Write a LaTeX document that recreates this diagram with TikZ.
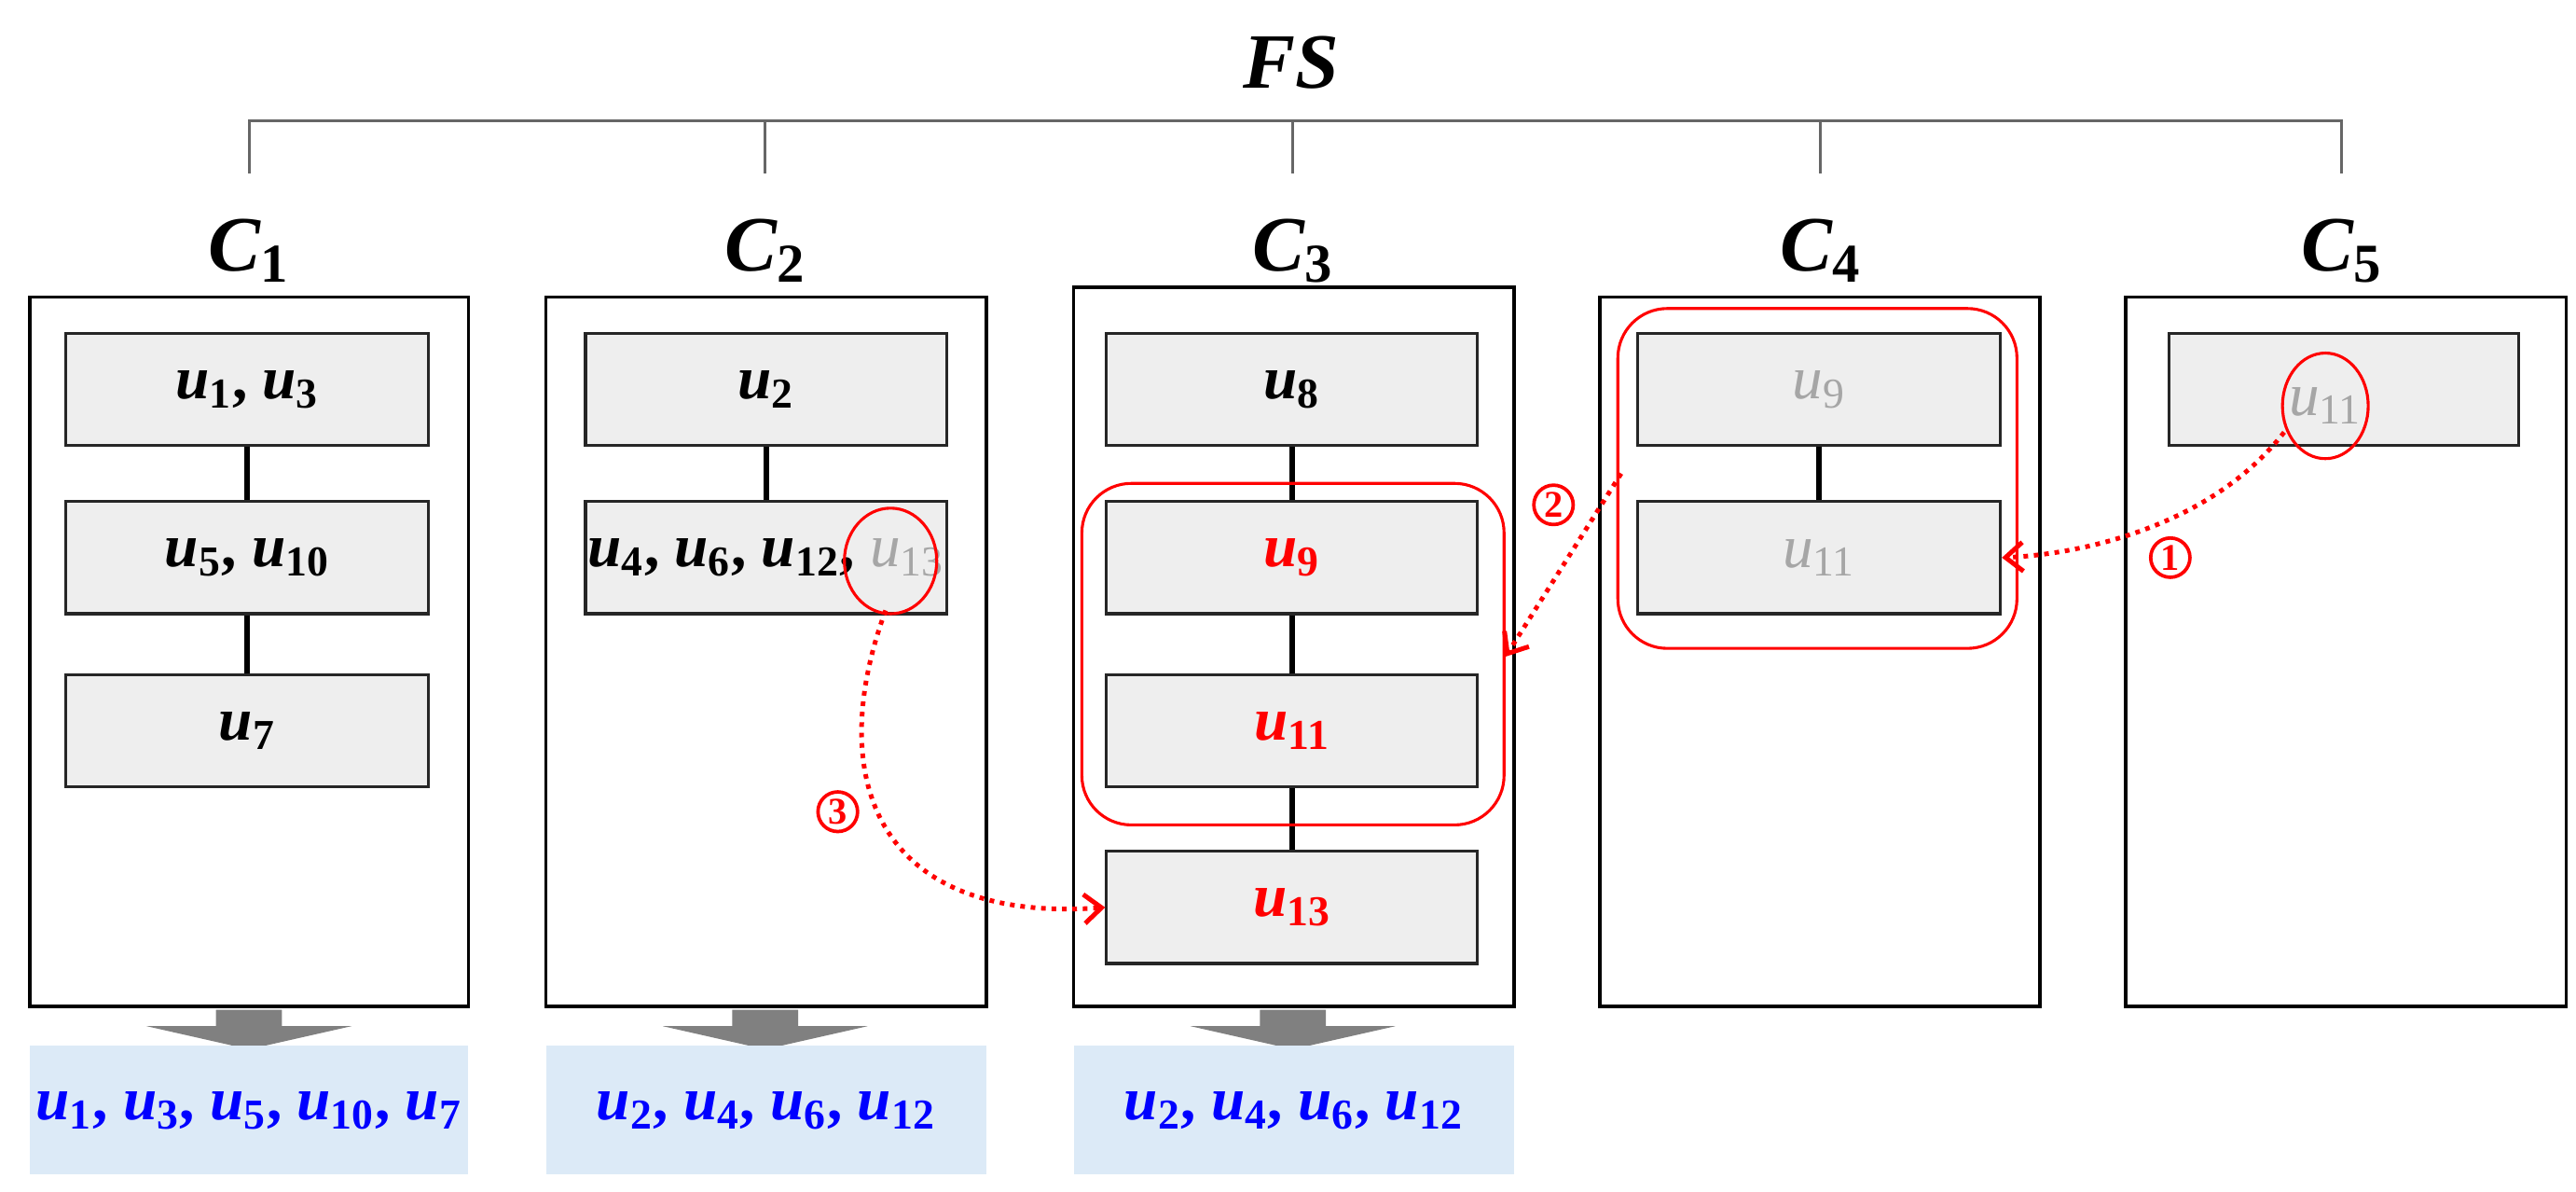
\documentclass[tikz,border=0pt]{standalone}
\usepackage{fontspec}
\setmainfont{Liberation Serif}
\usetikzlibrary{fit,arrows.meta}
\definecolor{boxgray}{RGB}{238,238,238}
\definecolor{resblue}{RGB}{220,234,247}
\definecolor{uired}{RGB}{255,0,0}
\newcommand\uv[1]{\textit{u}\textsubscript{\textup{#1}}}
\tikzset{
  col/.style={draw=black,line width=1.2pt,inner sep=0pt},
  box/.style={draw=black!85,fill=boxgray,line width=1pt,inner sep=0pt},
  txt/.style={font=\fontsize{21}{23}\selectfont\bfseries},
  gtxt/.style={text=black!35,font=\fontsize{21}{23}\selectfont},
  res/.style={fill=resblue,inner sep=0pt},
  lbl/.style={font=\fontsize{27}{29}\selectfont\bfseries\itshape},
  link/.style={line width=2pt},
  grp/.style={draw=uired,line width=1pt,rounded corners=0.6cm,inner sep=0pt},
  move/.style={draw=uired,line width=1.6pt,dotted,-{Straight Barb[length=6pt,width=10pt]}},
  num/.style={circle,draw=uired,line width=1.2pt,text=uired,inner sep=1pt,font=\fontsize{13}{14}\selectfont\bfseries},
}
\newcommand\resultarrow[1]{\fill[black!50] (#1-20,612) -- (#1+20,612) -- (#1+20,622) -- (#1+62,622) -- (#1,636) -- (#1-62,622) -- (#1-20,622) -- cycle;}
\begin{document}
\begin{tikzpicture}[x=0.02cm,y=-0.02cm]
\useasboundingbox (0,0) rectangle (1562,722);
% root and bracket
\node[lbl] (fs) at (783,38) {FS};
\draw[black!60,line width=1pt] (151,105) |- (1420,73) -- (1420,105);
\foreach \x in {464,784,1104} \draw[black!60,line width=1pt] (\x,73) -- (\x,105);
% cluster labels
\node[lbl] (l1) at (151,152) {C\textsubscript{\textup{1}}};
\node[lbl] (l2) at (464,152) {C\textsubscript{\textup{2}}};
\node[lbl] (l3) at (784,152) {C\textsubscript{\textup{3}}};
\node[lbl] (l4) at (1104,152) {C\textsubscript{\textup{4}}};
\node[lbl] (l5) at (1420,152) {C\textsubscript{\textup{5}}};
% columns
\node[col,fit={(18,180)(284,610)}] (c1) {};
\node[col,fit={(331,180)(598,610)}] (c2) {};
\node[col,fit={(651,174)(918,610)}] (c3) {};
\node[col,fit={(970,180)(1237,610)}] (c4) {};
\node[col,fit={(1289,180)(1556,610)}] (c5) {};
% C1
\node[box,fit={(40,202)(260,270)}] (a1) {};
\node[txt] at (a1) {\uv{1}, \uv{3}};
\node[box,fit={(40,304)(260,372)}] (a2) {};
\node[txt] at (a2) {\uv{5}, \uv{10}};
\node[box,fit={(40,409)(260,477)}] (a3) {};
\node[txt] at (a3) {\uv{7}};
\draw[link] (a1) -- (a2) (a2) -- (a3);
% C2
\node[box,fit={(355,202)(574,270)}] (b1) {};
\node[txt] at (b1) {\uv{2}};
\node[box,fit={(355,304)(574,372)}] (b2) {};
\node[txt] at (b2) {\uv{4}, \uv{6}, \uv{12}, \textcolor{black!35}{\mdseries\uv{13}}};
\draw[link] (b1) -- (b2);
% C3
\node[box,fit={(671,202)(896,270)}] (d1) {};
\node[txt] at (d1) {\uv{8}};
\node[box,fit={(671,304)(896,372)}] (d2) {};
\node[txt,text=uired] at (d2) {\uv{9}};
\node[box,fit={(671,409)(896,477)}] (d3) {};
\node[txt,text=uired] at (d3) {\uv{11}};
\node[box,fit={(671,516)(896,584)}] (d4) {};
\node[txt,text=uired] at (d4) {\uv{13}};
\draw[link] (d1) -- (d2) (d2) -- (d3) (d3) -- (d4);
% C4
\node[box,fit={(993,202)(1213,270)}] (e1) {};
\node[gtxt] at (e1) {\uv{9}};
\node[box,fit={(993,304)(1213,372)}] (e2) {};
\node[gtxt] at (e2) {\uv{11}};
\draw[link] (e1) -- (e2);
% C5
\node[box,fit={(1315,202)(1527,270)}] (f1) {};
\node[gtxt] at (1410,246) {\uv{11}};
% red groups and marks
\node[grp,fit={(656,293)(912,500)}] (g3) {};
\node[grp,fit={(981,187)(1223,393)}] (g4) {};
\draw[uired,line width=1pt] (1410,246) ellipse [x radius=26,y radius=32];
\draw[uired,line width=1pt] (540,340) ellipse [x radius=28,y radius=32];
\coordinate (s1) at (1385,262);
\coordinate (s2) at (983,287);
\coordinate (s3) at (537,370);
\draw[move] (s1) .. controls (1340,320) and (1260,336) .. (e2.east);
\draw[move] (s2) -- (g3.east |- 0,398);
\draw[move] (s3) .. controls (500,470) and (530,560) .. (d4.west);
\node[num] (n1) at (1316,338) {1};
\node[num] (n2) at (942,306) {2};
\node[num] (n3) at (508,492) {3};
% results
\resultarrow{151}
\resultarrow{464}
\resultarrow{784}
\node[res,fit={(18,634)(284,712)}] (r1) {};
\node[txt,text=blue] at (r1) {\uv{1}, \uv{3}, \uv{5}, \uv{10}, \uv{7}};
\node[res,fit={(331,634)(598,712)}] (r2) {};
\node[txt,text=blue] at (r2) {\uv{2}, \uv{4}, \uv{6}, \uv{12}};
\node[res,fit={(651,634)(918,712)}] (r3) {};
\node[txt,text=blue] at (r3) {\uv{2}, \uv{4}, \uv{6}, \uv{12}};
\end{tikzpicture}
\end{document}
